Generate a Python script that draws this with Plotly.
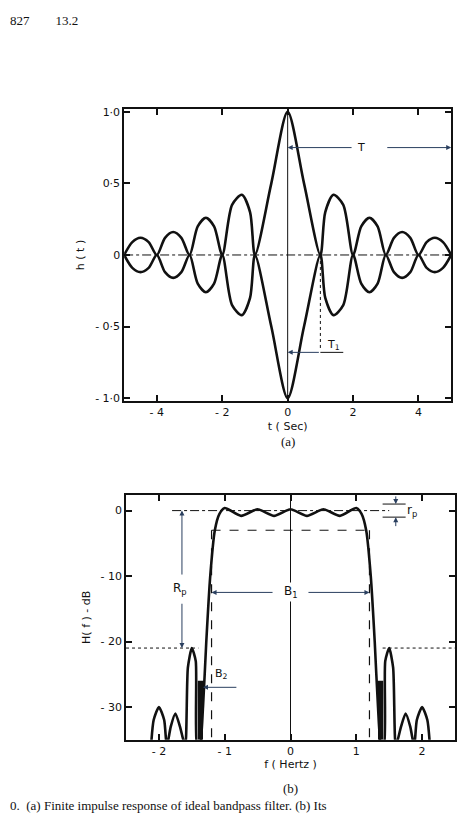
import plotly.graph_objects as go

# (a) impulse response envelope
t_pts = [-5, -4.75, -4.5, -4.25, -4, -3.75, -3.5, -3.25, -3, -2.75, -2.5, -2.25, -2,
         -1.7, -1.4, -1.15, -1, -0.5, 0, 0.5, 1, 1.15, 1.4, 1.7,
         2, 2.25, 2.5, 2.75, 3, 3.25, 3.5, 3.75, 4, 4.25, 4.5, 4.75, 5]
h_upper = [0, 0.09, 0.12, 0.09, 0, 0.12, 0.16, 0.12, 0, 0.2, 0.26, 0.2, 0,
           0.35, 0.42, 0.3, 0, 0.5, 1.0, 0.5, 0, 0.3, 0.42, 0.35,
           0, 0.2, 0.26, 0.2, 0, 0.12, 0.16, 0.12, 0, 0.09, 0.12, 0.09, 0]
h_lower = [-v for v in h_upper]

# (b) magnitude response in dB
f_pts = [-2.12, -2.08, -2.0, -1.92, -1.88, -1.82, -1.75, -1.68, -1.6, -1.56, -1.5, -1.44, -1.42,
         -1.38, -1.33, -1.28, -1.22, -1.15, -1.08, -1.0, -0.75, -0.5, -0.25, 0, 0.25, 0.5, 0.75, 1.0, 1.08,
         1.15, 1.22, 1.28, 1.33, 1.38, 1.42, 1.44, 1.5, 1.56, 1.6, 1.68, 1.75, 1.82, 1.88, 1.92, 2.0, 2.08, 2.12]
H_db = [-36, -32, -30, -32, -36, -33, -31, -33, -36, -24, -21, -23, -36,
        -36, -30, -20, -10, -3, -0.5, 0.4, -0.8, 0.2, -0.8, 0.2, -0.8, 0.2, -0.8, 0.4, -0.5,
        -3, -10, -20, -30, -36, -36, -23, -21, -24, -36, -33, -31, -33, -36, -32, -30, -32, -36]

BLK = "#111"
fig = go.Figure()
for yy in (h_upper, h_lower):
    fig.add_trace(go.Scatter(x=t_pts, y=yy, mode="lines", line=dict(color=BLK, width=2.6, shape="spline", smoothing=0.8),
                             xaxis="x", yaxis="y"))
fig.add_trace(go.Scatter(x=f_pts, y=H_db, mode="lines", line=dict(color=BLK, width=2.6, shape="spline", smoothing=0.6),
                         xaxis="x2", yaxis="y2"))

lab = dict(family="DejaVu Sans", size=11, color=BLK)
ax = dict(showgrid=False, zeroline=False, ticks="inside", mirror="ticks", showline=True,
          linecolor=BLK, linewidth=1.6, tickcolor=BLK, ticklen=6, tickwidth=1.5,
          tickfont=dict(family="DejaVu Sans", size=11, color=BLK))
fig.update_layout(
    width=474, height=823, margin=dict(l=0, r=0, t=0, b=0),
    paper_bgcolor="white", plot_bgcolor="white", showlegend=False,
    xaxis=dict(ax, domain=[0.245, 0.935], range=[-5, 5], tickvals=[-4, -2, 0, 2, 4], ticktext=["- 4", "- 2", "0", "2", "4"],
               title=dict(text="t ( Sec)", font=lab, standoff=4)),
    yaxis=dict(ax, domain=[0.522, 0.88], range=[-1.02, 1.02], tickvals=[-1, -0.5, 0, 0.5, 1],
               ticktext=["- 1·0", "- 0·5", "0", "0·5", "1·0"],
               title=dict(text="h ( t )", font=lab, standoff=8)),
    xaxis2=dict(ax, anchor="y2", domain=[0.249, 0.943], range=[-2.5, 2.5], tickvals=[-2, -1, 0, 1, 2], ticktext=["- 2", "- 1", "0", "1", "2"],
                title=dict(text="f ( Hertz )", font=lab, standoff=4)),
    yaxis2=dict(ax, anchor="x2", domain=[0.107, 0.407], range=[-35, 2.4], tickvals=[0, -10, -20, -30],
                ticktext=["0", "- 10", "- 20", "- 30"],
                title=dict(text="H( f ) - dB", font=lab, standoff=8)),
)

ln = dict(color=BLK, width=1)
# (a) guides
fig.add_shape(type="line", xref="x", yref="y", x0=0, x1=0, y0=-1, y1=1, line=ln)
fig.add_shape(type="line", xref="x", yref="y", x0=-5, x1=5, y0=0, y1=0, line=dict(color=BLK, width=1, dash="dashdot"))
fig.add_shape(type="line", xref="x", yref="y", x0=1, x1=1, y0=0, y1=-0.65, line=dict(color=BLK, width=1, dash="dot"))
fig.add_annotation(xref="x", yref="y", x=0, y=0.75, ax=2, ay=0.75, axref="x", ayref="y", showarrow=True, arrowhead=2, arrowwidth=1, text="")
fig.add_annotation(xref="x", yref="y", x=5, y=0.75, ax=3, ay=0.75, axref="x", ayref="y", showarrow=True, arrowhead=2, arrowwidth=1, text="")
fig.add_annotation(xref="x", yref="y", x=2.25, y=0.75, text="T", showarrow=False, font=lab)
fig.add_annotation(xref="x", yref="y", x=0, y=-0.68, ax=1, ay=-0.68, axref="x", ayref="y", showarrow=True, arrowhead=2, arrowwidth=1, text="")
fig.add_shape(type="line", xref="x", yref="y", x0=1, x1=1.7, y0=-0.68, y1=-0.68, line=ln)
fig.add_annotation(xref="x", yref="y", x=1.4, y=-0.63, text="T<sub>1</sub>", showarrow=False, font=lab)

# (b) guides
fig.add_shape(type="line", xref="x2", yref="y2", x0=0, x1=0, y0=-35, y1=2.4, line=ln)
fig.add_shape(type="line", xref="x2", yref="y2", x0=-1.8, x1=1.5, y0=0, y1=0, line=dict(color=BLK, width=1, dash="dashdot"))
fig.add_shape(type="line", xref="x2", yref="y2", x0=-1.2, x1=1.2, y0=-3, y1=-3, line=dict(color=BLK, width=1, dash="dash"))
for xv in (-1.2, 1.2):
    fig.add_shape(type="line", xref="x2", yref="y2", x0=xv, x1=xv, y0=-3, y1=-35, line=dict(color=BLK, width=1.2, dash="dash"))
fig.add_shape(type="line", xref="x2", yref="y2", x0=-2.5, x1=-1.4, y0=-21, y1=-21, line=dict(color=BLK, width=1, dash="dot"))
fig.add_shape(type="line", xref="x2", yref="y2", x0=1.4, x1=2.5, y0=-21, y1=-21, line=dict(color=BLK, width=1, dash="dot"))
for xa, xb in ((-1.41, -1.33), (1.33, 1.41)):
    fig.add_shape(type="rect", xref="x2", yref="y2", x0=xa, x1=xb, y0=-35, y1=-26, fillcolor=BLK, line_width=0)
arr = dict(showarrow=True, arrowhead=2, arrowwidth=1, text="", axref="x2", ayref="y2", xref="x2", yref="y2")
fig.add_annotation(arr, x=-1.65, y=0, ax=-1.65, ay=-10)
fig.add_annotation(arr, x=-1.65, y=-21, ax=-1.65, ay=-14)
fig.add_annotation(xref="x2", yref="y2", x=-1.68, y=-12, text="R<sub>p</sub>", showarrow=False, font=dict(lab, size=12))
fig.add_annotation(arr, x=-1.2, y=-12.5, ax=-0.25, ay=-12.5)
fig.add_annotation(arr, x=1.2, y=-12.5, ax=0.25, ay=-12.5)
fig.add_annotation(xref="x2", yref="y2", x=0, y=-12.5, text="B<sub>1</sub>", showarrow=False, bgcolor="white", font=dict(lab, size=12))
fig.add_annotation(arr, x=-1.33, y=-27, ax=-0.8, ay=-27)
fig.add_annotation(xref="x2", yref="y2", x=-1.05, y=-25, text="B<sub>2</sub>", showarrow=False, font=lab)
fig.add_shape(type="line", xref="x2", yref="y2", x0=1.4, x1=1.75, y0=1.0, y1=1.0, line=ln)
fig.add_shape(type="line", xref="x2", yref="y2", x0=1.4, x1=1.75, y0=-1.0, y1=-1.0, line=ln)
fig.add_annotation(arr, x=1.6, y=1.0, ax=1.6, ay=2.4)
fig.add_annotation(arr, x=1.6, y=-1.0, ax=1.6, ay=-2.6)
fig.add_annotation(xref="x2", yref="y2", x=1.85, y=0, text="r<sub>p</sub>", showarrow=False, font=dict(lab, size=12))

serif = dict(family="Liberation Serif", size=13, color=BLK)
fig.add_annotation(xref="paper", yref="paper", x=0.0, y=1.0, xanchor="left", yanchor="top", text="827        13.2", showarrow=False, font=serif)
fig.add_annotation(xref="paper", yref="paper", x=0.59, y=0.472, text="(a)", showarrow=False, font=serif)
fig.add_annotation(xref="paper", yref="paper", x=0.597, y=0.035, text="(b)", showarrow=False, font=serif)
fig.add_annotation(xref="paper", yref="paper", x=0.0, y=0.015, xanchor="left",
                   text="0.  (a) Finite impulse response of ideal bandpass filter. (b) Its", showarrow=False, font=serif)

fig.write_html("out.html")
